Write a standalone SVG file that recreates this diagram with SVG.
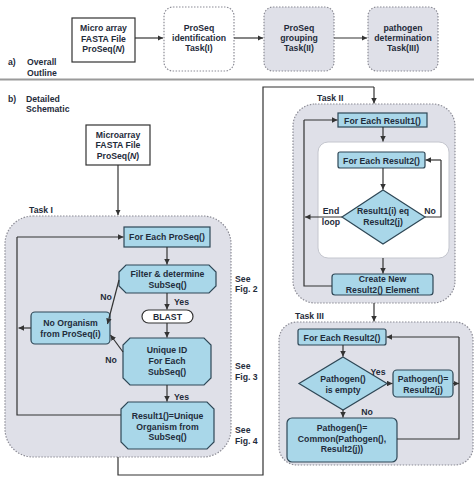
<svg xmlns="http://www.w3.org/2000/svg" width="474" height="484" viewBox="0 0 474 484">
<style>
text{font-family:"Liberation Sans",Arial,sans-serif;font-weight:bold;font-size:8.7px;fill:#1f2c3b}
.c{text-anchor:middle}
.blue{fill:#a9d7e9;stroke:#2e4756;stroke-width:1.2}
.wbox{fill:#ffffff;stroke:#333;stroke-width:1.2}
.task{fill:#dfe0e8;stroke:#8c8c96;stroke-width:1.2;stroke-dasharray:1.5 1.5}
.taskw{fill:#ffffff;stroke:#8c8c96;stroke-width:1.2;stroke-dasharray:1.5 1.5}
.inner{fill:#ffffff;stroke:#c4c6ce;stroke-width:1}
.ln{fill:none;stroke:#333;stroke-width:1.2}
.arr{fill:none;stroke:#333;stroke-width:1.2;marker-end:url(#ah)}
</style>
<defs>
<marker id="ah" viewBox="0 0 10 10" refX="10" refY="5" markerWidth="5.5" markerHeight="5.5" markerUnits="userSpaceOnUse" orient="auto"><path d="M0,0 L10,5 L0,10 z" fill="#333"/></marker>
</defs>
<rect width="474" height="484" fill="#ffffff"/>

<!-- section a -->
<g id="label-a">
<text x="8" y="65">a)</text><text x="27" y="65">Overall</text><text x="27" y="76">Outline</text>
</g>
<line x1="0" y1="79.5" x2="474" y2="79.5" stroke="#9a9a9a" stroke-width="2"/>
<g id="a-input">
<rect class="wbox" x="72" y="18" width="63" height="44"/>
<text class="c" x="103.5" y="31">Micro array</text>
<text class="c" x="103.5" y="41.5">FASTA File</text>
<text class="c" x="103.5" y="52">ProSeq(<tspan font-style="italic">N</tspan>)</text>
</g>
<g id="a-task1">
<rect class="taskw" x="164" y="7" width="70" height="64" rx="9"/>
<text class="c" x="199" y="31">ProSeq</text>
<text class="c" x="199" y="41">identification</text>
<text class="c" x="199" y="51">Task(I)</text>
</g>
<g id="a-task2">
<rect class="task" x="264" y="7" width="70" height="64" rx="9"/>
<text class="c" x="299" y="31">ProSeq</text>
<text class="c" x="299" y="41">grouping</text>
<text class="c" x="299" y="51">Task(II)</text>
</g>
<g id="a-task3">
<rect class="task" x="368" y="7" width="70" height="64" rx="9"/>
<text class="c" x="403" y="31">pathogen</text>
<text class="c" x="403" y="41">determination</text>
<text class="c" x="403" y="51">Task(III)</text>
</g>

<!-- section b -->
<g id="label-b">
<text x="8" y="102">b)</text><text x="26" y="102">Detailed</text><text x="26" y="112">Schematic</text>
</g>
<g id="b-input">
<rect class="wbox" x="86" y="125" width="64" height="40"/>
<text class="c" x="118" y="137.5">Microarray</text>
<text class="c" x="118" y="148">FASTA File</text>
<text class="c" x="118" y="158.5">ProSeq(<tspan font-style="italic">N</tspan>)</text>
</g>

<g id="taskI">
<rect class="task" x="5" y="216" width="226" height="241" rx="28"/>
<text x="29" y="213">Task I</text>
</g>
<g id="taskII">
<rect class="task" x="293" y="104" width="162" height="199" rx="22"/>
<text x="317" y="101">Task II</text>
</g>
<g id="taskII-inner">
<rect class="inner" x="318" y="142" width="131" height="116" rx="10"/>
</g>
<g id="taskIII">
<rect class="task" x="279" y="322" width="194" height="143" rx="18"/>
<text x="295" y="319">Task III</text>
</g>

<!-- Task I nodes -->
<g id="foreach-proseq">
<rect class="blue" x="124" y="227" width="86" height="20"/>
<text class="c" x="167" y="240">For Each ProSeq()</text>
</g>
<g id="filter">
<polygon class="blue" points="126,265 209,265 216,272 216,286 209,293 126,293 119,286 119,272"/>
<text class="c" x="167.5" y="277">Filter &amp; determine</text>
<text class="c" x="167.5" y="287.5">SubSeq()</text>
</g>
<g id="blast">
<rect class="wbox" x="142" y="310" width="51" height="13" rx="6.5"/>
<text class="c" x="167.5" y="320">BLAST</text>
</g>
<g id="unique">
<polygon class="blue" points="130,338 204,338 211,345 211,378 204,385 130,385 123,378 123,345"/>
<text class="c" x="167" y="353">Unique ID</text>
<text class="c" x="167" y="364">For Each</text>
<text class="c" x="167" y="374.5">SubSeq()</text>
</g>
<g id="result1">
<polygon class="blue" points="128,402 207,402 214,409 214,442 207,449 128,449 121,442 121,409"/>
<text class="c" x="167.5" y="419">Result1()=Unique</text>
<text class="c" x="167.5" y="429.5">Organism from</text>
<text class="c" x="167.5" y="440">SubSeq()</text>
</g>
<g id="noorg">
<rect class="blue" x="31" y="312" width="79" height="32" rx="4"/>
<text class="c" x="70.5" y="326">No Organism</text>
<text class="c" x="70.5" y="336.5">from ProSeq(i)</text>
</g>
<g id="seefig">
<text x="235" y="282">See</text><text x="235" y="292">Fig. 2</text>
<text x="235" y="369">See</text><text x="235" y="380">Fig. 3</text>
<text x="235" y="433">See</text><text x="235" y="444">Fig. 4</text>
</g>

<!-- Task II nodes -->
<g id="foreach-result1">
<rect class="blue" x="338" y="113" width="89" height="14"/>
<text class="c" x="382.5" y="123.5">For Each Result1()</text>
</g>
<g id="foreach-result2a">
<rect class="blue" x="338" y="152" width="87" height="16" rx="2"/>
<text class="c" x="381.5" y="163.5">For Each Result2()</text>
</g>
<g id="eq-diamond">
<polygon class="blue" points="383,190 425,217 383,244 342,217"/>
<text class="c" x="383" y="214">Result1(i) eq</text>
<text class="c" x="383" y="225">Result2(j)</text>
</g>
<g id="create">
<rect class="blue" x="332" y="274" width="101" height="21" rx="3"/>
<text class="c" x="382.5" y="282">Create New</text>
<text class="c" x="382.5" y="292.5">Result2() Element</text>
</g>

<!-- Task III nodes -->
<g id="foreach-result2b">
<rect class="blue" x="298" y="329" width="88" height="16" rx="2"/>
<text class="c" x="342" y="340.5">For Each Result2()</text>
</g>
<g id="empty-diamond">
<polygon class="blue" points="343,357 387,383.5 343,410 299,383.5"/>
<text class="c" x="343" y="382">Pathogen()</text>
<text class="c" x="343" y="392.5">is empty</text>
</g>
<g id="pathogen-set">
<rect class="blue" x="393" y="370" width="60" height="27" rx="4"/>
<text class="c" x="423" y="382">Pathogen()=</text>
<text class="c" x="423" y="392.5">Result2(j)</text>
</g>
<g id="pathogen-common">
<rect class="blue" x="287" y="418" width="110" height="44" rx="5"/>
<text class="c" x="342" y="431">Pathogen()=</text>
<text class="c" x="342" y="441.5">Common(Pathogen(),</text>
<text class="c" x="342" y="452">Result2(j))</text>
</g>

<!-- connectors -->
<g id="connectors">
<line class="arr" x1="135" y1="38" x2="163" y2="38"/>
<line class="arr" x1="234" y1="38" x2="263" y2="38"/>
<line class="arr" x1="334" y1="38" x2="367" y2="38"/>

<line class="arr" x1="118" y1="165" x2="118" y2="215"/>
<line class="arr" x1="167" y1="247" x2="167" y2="264.5"/>
<line class="arr" x1="167" y1="293" x2="167" y2="309.5"/>
<line class="arr" x1="167" y1="323" x2="167" y2="337.5"/>
<line class="arr" x1="167" y1="385" x2="167" y2="401.5"/>
<line class="arr" x1="119" y1="280" x2="107.5" y2="324"/>
<line class="arr" x1="123" y1="352" x2="110.5" y2="335"/>
<line class="arr" x1="31" y1="328" x2="18.5" y2="328"/>
<polyline class="ln" points="121,415 17,415 17,237"/>
<line class="arr" x1="17" y1="237" x2="123.5" y2="237"/>
<polyline class="ln" points="118,457 118,475 263,475 263,87 374,87"/>
<line class="arr" x1="374" y1="87" x2="374" y2="103.5"/>

<line class="arr" x1="383" y1="127" x2="383" y2="141.5"/>
<line class="arr" x1="383" y1="168" x2="383" y2="189.5"/>
<polyline class="ln" points="425,217 441,217 441,160"/>
<line class="arr" x1="441" y1="160" x2="425.5" y2="160"/>
<line class="arr" x1="342" y1="217" x2="305" y2="217"/>
<line class="arr" x1="383" y1="258" x2="383" y2="273.5"/>
<polyline class="ln" points="332,286 304,286 304,120"/>
<line class="arr" x1="304" y1="120" x2="337.5" y2="120"/>
<line class="arr" x1="374" y1="303" x2="374" y2="321.5"/>

<line class="arr" x1="343" y1="345" x2="343" y2="356.5"/>
<line class="arr" x1="387" y1="383.5" x2="392.5" y2="383.5"/>
<line class="arr" x1="343" y1="410" x2="343" y2="417.5"/>
<line class="arr" x1="453" y1="383.5" x2="459" y2="383.5"/>
<polyline class="ln" points="397,439 459,439 459,337"/>
<line class="arr" x1="459" y1="337" x2="386.5" y2="337"/>
</g>

<g id="edge-labels">
<text class="c" x="106" y="300">No</text>
<text class="c" x="111" y="363">No</text>
<text x="174" y="305">Yes</text>
<text x="174" y="400">Yes</text>
<text class="c" x="430" y="214">No</text>
<text class="c" x="331" y="214">End</text>
<text class="c" x="331" y="225">loop</text>
<text class="c" x="378" y="375">Yes</text>
<text class="c" x="367" y="415">No</text>
</g>
</svg>
